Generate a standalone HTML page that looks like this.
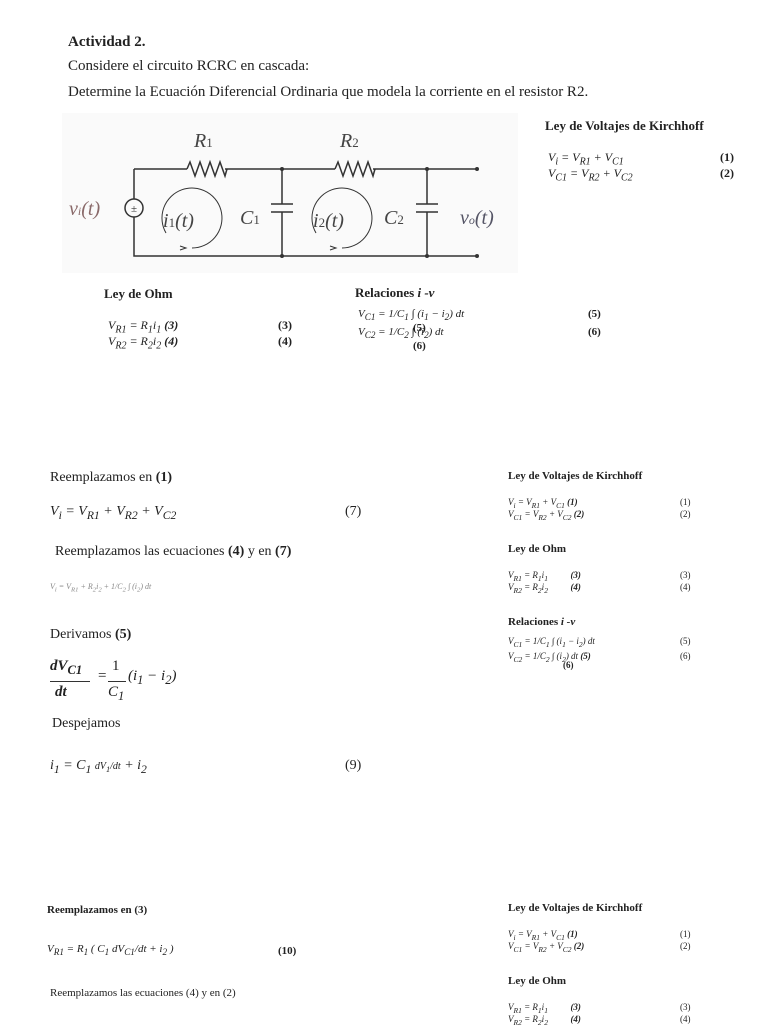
<!DOCTYPE html>
<html><head><meta charset="utf-8"><style>
body{margin:0;width:768px;height:1024px;background:#fff;position:relative;overflow:hidden;font-family:"Liberation Serif",serif;color:#222}
.t{position:absolute;white-space:nowrap}
.b{font-weight:bold}
.m{font-style:italic}
.s{font-size:11px}
.xs{font-size:9px}
</style></head><body>
<div class="t b" style="left:68px;top:34px;font-size:15px">Actividad 2.</div>
<div class="t" style="left:68px;top:58px;font-size:15px">Considere el circuito RCRC en cascada:</div>
<div class="t" style="left:68px;top:84px;font-size:15px">Determine la Ecuación Diferencial Ordinaria que modela la corriente en el resistor R2.</div>

<svg style="position:absolute;left:62px;top:113px" width="456" height="160" viewBox="62 113 456 160">
<rect x="62" y="113" width="456" height="160" fill="#fafafa"/>
<g stroke="#333" stroke-width="1.5" fill="none">
<path d="M134 169H187 M225 169H335 M373 169H477 M134 169V199 M134 217V256H477"/>
<path d="M187 169l3-7 5 14 5-14 5 14 5-14 5 14 5-14 5 14 2-7"/>
<path d="M335 169l3-7 5 14 5-14 5 14 5-14 5 14 5-14 5 14 2-7"/>
<circle cx="134" cy="208" r="9"/>
<path d="M282 169V204 M282 212V256 M271 204H293 M271 212H293"/>
<path d="M427 169V204 M427 212V256 M416 204H438 M416 212H438"/>
<path d="M166 233A30 30 0 1 1 192 248" stroke-width="1"/>
<path d="M316 233A30 30 0 1 1 342 248" stroke-width="1"/>
<path d="M180 246l6 2-6 2" stroke-width="1"/>
<path d="M330 246l6 2-6 2" stroke-width="1"/>
</g>
<circle cx="282" cy="169" r="2" fill="#333"/><circle cx="282" cy="256" r="2" fill="#333"/>
<circle cx="427" cy="169" r="2" fill="#333"/><circle cx="427" cy="256" r="2" fill="#333"/>
<circle cx="477" cy="169" r="2" fill="#333"/><circle cx="477" cy="256" r="2" fill="#333"/>
<text x="134" y="212" font-size="11" text-anchor="middle" fill="#333">±</text>
<g font-family="Liberation Serif" font-style="italic" font-size="20" fill="#444">
<text x="69" y="215" fill="#8a6a6a">v<tspan font-size="12">i</tspan>(t)</text>
<text x="194" y="147">R<tspan font-size="13" font-style="normal">1</tspan></text>
<text x="340" y="147">R<tspan font-size="13" font-style="normal">2</tspan></text>
<text x="163" y="227">i<tspan font-size="13" font-style="normal">1</tspan>(t)</text>
<text x="240" y="224">C<tspan font-size="13" font-style="normal">1</tspan></text>
<text x="313" y="227">i<tspan font-size="13" font-style="normal">2</tspan>(t)</text>
<text x="384" y="224">C<tspan font-size="13" font-style="normal">2</tspan></text>
<text x="460" y="224" fill="#556">v<tspan font-size="12">o</tspan>(t)</text>
</g>
</svg>

<div class="t b" style="left:545px;top:118px;font-size:13px">Ley de Voltajes de Kirchhoff</div>
<div class="t m" style="left:548px;top:150px;font-size:12px">V<sub>i</sub> = V<sub>R1</sub> + V<sub>C1</sub></div>
<div class="t m" style="left:548px;top:166px;font-size:12px">V<sub>C1</sub> = V<sub>R2</sub> + V<sub>C2</sub></div>
<div class="t b" style="left:720px;top:150px;font-size:12px">(1)</div>
<div class="t b" style="left:720px;top:166px;font-size:12px">(2)</div>

<div class="t b" style="left:104px;top:286px;font-size:13px">Ley de Ohm</div>
<div class="t m" style="left:108px;top:318px;font-size:12px">V<sub>R1</sub> = R<sub>1</sub>i<sub>1</sub> <b>(3)</b></div>
<div class="t m" style="left:108px;top:334px;font-size:12px">V<sub>R2</sub> = R<sub>2</sub>i<sub>2</sub> <b>(4)</b></div>
<div class="t b" style="left:278px;top:318px;font-size:12px">(3)</div>
<div class="t b" style="left:278px;top:334px;font-size:12px">(4)</div>

<div class="t b" style="left:355px;top:285px;font-size:13px">Relaciones <i>i -v</i></div>
<div class="t m s" style="left:358px;top:308px">V<sub>C1</sub> = 1/C<sub>1</sub> ∫ (i<sub>1</sub> − i<sub>2</sub>) dt</div>
<div class="t m s" style="left:358px;top:326px">V<sub>C2</sub> = 1/C<sub>2</sub> ∫ (i<sub>2</sub>) dt</div>
<div class="t b s" style="left:413px;top:322px">(5)</div>
<div class="t b s" style="left:413px;top:340px">(6)</div>
<div class="t b s" style="left:588px;top:308px">(5)</div>
<div class="t b s" style="left:588px;top:326px">(6)</div>

<div class="t" style="left:50px;top:470px;font-size:14px">Reemplazamos en <b>(1)</b></div>
<div class="t m" style="left:50px;top:504px;font-size:14px">V<sub>i</sub> = V<sub>R1</sub> + V<sub>R2</sub> + V<sub>C2</sub></div>
<div class="t" style="left:345px;top:504px;font-size:14px">(7)</div>
<div class="t" style="left:55px;top:544px;font-size:14px">Reemplazamos las ecuaciones <b>(4)</b> y en <b>(7)</b></div>
<div class="t m" style="left:50px;top:582px;font-size:8px;color:#888">V<sub>i</sub> = V<sub>R1</sub> + R<sub>2</sub>i<sub>2</sub> + 1/C<sub>2</sub> ∫ (i<sub>2</sub>) dt</div>
<div class="t" style="left:50px;top:627px;font-size:14px">Derivamos <b>(5)</b></div>
<div class="t m" style="left:50px;top:658px;font-size:15px"><b>dV<sub>C1</sub></b></div>
<div style="position:absolute;left:50px;top:681px;width:40px;border-top:1px solid #333"></div>
<div class="t m b" style="left:55px;top:684px;font-size:15px">dt</div>
<div class="t" style="left:98px;top:668px;font-size:15px">=</div>
<div class="t" style="left:112px;top:658px;font-size:15px">1</div>
<div style="position:absolute;left:108px;top:681px;width:18px;border-top:1px solid #333"></div>
<div class="t m" style="left:108px;top:684px;font-size:15px">C<sub>1</sub></div>
<div class="t m" style="left:128px;top:668px;font-size:15px">(i<sub>1</sub> − i<sub>2</sub>)</div>
<div class="t" style="left:52px;top:716px;font-size:14px">Despejamos</div>
<div class="t m" style="left:50px;top:758px;font-size:14px">i<sub>1</sub> = C<sub>1</sub> <span style="font-size:10px">dV<sub>1</sub>/dt</span> + i<sub>2</sub></div>
<div class="t" style="left:345px;top:758px;font-size:14px">(9)</div>

<div class="t b s" style="left:508px;top:470px">Ley de Voltajes de Kirchhoff</div>
<div class="t m xs" style="left:508px;top:497px">V<sub>i</sub> = V<sub>R1</sub> + V<sub>C1</sub> <b>(1)</b></div>
<div class="t m xs" style="left:508px;top:509px">V<sub>C1</sub> = V<sub>R2</sub> + V<sub>C2</sub> <b>(2)</b></div>
<div class="t xs" style="left:680px;top:497px">(1)</div><div class="t xs" style="left:680px;top:509px">(2)</div>
<div class="t b s" style="left:508px;top:543px">Ley de Ohm</div>
<div class="t m xs" style="left:508px;top:570px">V<sub>R1</sub> = R<sub>1</sub>i<sub>1</sub> &nbsp;&nbsp;&nbsp;&nbsp;&nbsp;&nbsp;&nbsp;&nbsp;&nbsp;<b>(3)</b></div>
<div class="t m xs" style="left:508px;top:582px">V<sub>R2</sub> = R<sub>2</sub>i<sub>2</sub> &nbsp;&nbsp;&nbsp;&nbsp;&nbsp;&nbsp;&nbsp;&nbsp;&nbsp;<b>(4)</b></div>
<div class="t xs" style="left:680px;top:570px">(3)</div><div class="t xs" style="left:680px;top:582px">(4)</div>
<div class="t b s" style="left:508px;top:616px">Relaciones <i>i -v</i></div>
<div class="t m xs" style="left:508px;top:636px">V<sub>C1</sub> = 1/C<sub>1</sub> ∫ (i<sub>1</sub> − i<sub>2</sub>) dt</div>
<div class="t m xs" style="left:508px;top:651px">V<sub>C2</sub> = 1/C<sub>2</sub> ∫ (i<sub>2</sub>) dt <b>(5)</b></div>
<div class="t b xs" style="left:563px;top:660px">(6)</div>
<div class="t xs" style="left:680px;top:636px">(5)</div><div class="t xs" style="left:680px;top:651px">(6)</div>

<div class="t b s" style="left:47px;top:904px">Reemplazamos en (3)</div>
<div class="t m s" style="left:47px;top:943px">V<sub>R1</sub> = R<sub>1</sub> ( C<sub>1</sub> dV<sub>C1</sub>/dt + i<sub>2</sub> )</div>
<div class="t b s" style="left:278px;top:945px">(10)</div>
<div class="t s" style="left:50px;top:987px">Reemplazamos las ecuaciones (4) y en (2)</div>

<div class="t b s" style="left:508px;top:902px">Ley de Voltajes de Kirchhoff</div>
<div class="t m xs" style="left:508px;top:929px">V<sub>i</sub> = V<sub>R1</sub> + V<sub>C1</sub> <b>(1)</b></div>
<div class="t m xs" style="left:508px;top:941px">V<sub>C1</sub> = V<sub>R2</sub> + V<sub>C2</sub> <b>(2)</b></div>
<div class="t xs" style="left:680px;top:929px">(1)</div><div class="t xs" style="left:680px;top:941px">(2)</div>
<div class="t b s" style="left:508px;top:975px">Ley de Ohm</div>
<div class="t m xs" style="left:508px;top:1002px">V<sub>R1</sub> = R<sub>1</sub>i<sub>1</sub> &nbsp;&nbsp;&nbsp;&nbsp;&nbsp;&nbsp;&nbsp;&nbsp;&nbsp;<b>(3)</b></div>
<div class="t m xs" style="left:508px;top:1014px">V<sub>R2</sub> = R<sub>2</sub>i<sub>2</sub> &nbsp;&nbsp;&nbsp;&nbsp;&nbsp;&nbsp;&nbsp;&nbsp;&nbsp;<b>(4)</b></div>
<div class="t xs" style="left:680px;top:1002px">(3)</div><div class="t xs" style="left:680px;top:1014px">(4)</div>
</body></html>
